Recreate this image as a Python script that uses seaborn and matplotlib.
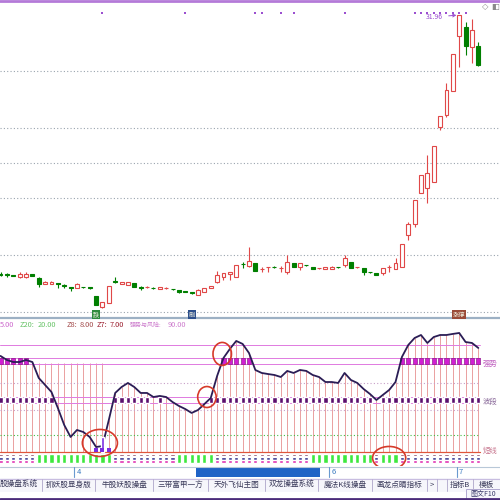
import matplotlib
matplotlib.use("Agg")
import matplotlib.pyplot as plt
import matplotlib.transforms as mtransforms
from matplotlib.patches import Ellipse, Rectangle
import seaborn as sns

# --- 1. Data ---

# daily candles (open / high / low / close)
opens = [16.45, 16.37, 16.33, 16.24, 16.24, 16.42, 16.18, 15.82, 15.82, 15.84,
         15.71, 15.64, 15.58, 15.66, 15.59, 15.10, 14.44, 14.68, 15.98, 15.82,
         15.76, 15.88, 15.64, 15.62, 15.59, 15.52, 15.57, 15.53, 15.46, 15.36,
         15.34, 15.16, 15.34, 15.58, 15.94, 16.24, 16.42, 16.24, 17.03, 16.90,
         17.08, 16.71, 16.83, 16.85, 16.77, 16.54, 17.08, 16.84, 16.97, 16.84,
         16.77, 16.72, 16.72, 16.85, 16.96, 17.14, 16.83, 16.78, 16.55, 16.48,
         16.48, 16.83, 16.72, 16.84, 18.76, 19.42, 21.28, 21.58, 21.94, 25.24,
         25.96, 27.40, 30.70, 31.24, 30.04, 30.10]
highs = [16.54, 16.48, 16.35, 16.54, 16.54, 16.45, 16.24, 16.00, 16.00, 15.88,
         15.80, 15.66, 15.86, 15.66, 15.66, 15.12, 14.76, 15.72, 16.24, 15.96,
         15.96, 15.90, 15.70, 15.70, 15.62, 15.66, 15.62, 15.55, 15.48, 15.40,
         15.36, 15.50, 15.60, 15.72, 16.60, 16.50, 16.56, 16.98, 17.14, 18.04,
         17.10, 16.84, 16.86, 16.92, 16.90, 17.56, 17.10, 17.10, 16.99, 16.86,
         16.81, 16.86, 16.88, 16.87, 17.56, 17.16, 16.87, 16.80, 16.57, 16.50,
         16.80, 16.96, 17.38, 18.24, 19.54, 20.88, 22.38, 23.56, 24.12, 25.92,
         27.88, 29.64, 31.96, 31.54, 31.72, 30.34]
lows = [16.30, 16.24, 16.29, 16.18, 16.18, 16.28, 15.64, 15.80, 15.80, 15.58,
        15.60, 15.40, 15.56, 15.60, 15.52, 14.54, 14.38, 14.66, 15.88, 15.80,
        15.74, 15.62, 15.46, 15.56, 15.54, 15.50, 15.55, 15.48, 15.30, 15.32,
        15.22, 15.14, 15.32, 15.56, 15.88, 16.06, 16.06, 16.22, 16.78, 16.84,
        16.58, 16.54, 16.54, 16.76, 16.54, 16.42, 16.82, 16.66, 16.93, 16.70,
        16.75, 16.70, 16.70, 16.81, 16.84, 16.76, 16.80, 16.36, 16.50, 16.34,
        16.36, 16.54, 16.70, 16.82, 18.46, 19.24, 21.26, 20.68, 21.92, 25.06,
        25.84, 27.38, 28.84, 29.56, 29.08, 28.90]
closes = [16.39, 16.36, 16.31, 16.42, 16.42, 16.30, 15.82, 15.94, 15.94, 15.82,
          15.70, 15.58, 15.82, 15.63, 15.58, 14.56, 14.74, 15.70, 15.95, 15.94,
          15.94, 15.64, 15.58, 15.64, 15.57, 15.64, 15.59, 15.51, 15.34, 15.35,
          15.28, 15.46, 15.58, 15.70, 16.36, 16.48, 16.54, 16.96, 17.01, 17.20,
          16.60, 16.73, 16.85, 16.83, 16.79, 17.14, 16.84, 17.08, 16.95, 16.72,
          16.79, 16.84, 16.84, 16.83, 17.38, 16.78, 16.85, 16.54, 16.53, 16.36,
          16.78, 16.85, 17.08, 18.22, 19.42, 20.86, 22.36, 22.48, 24.10, 25.90,
          27.46, 29.62, 31.96, 30.10, 31.06, 28.96]

# purple signal dots along the top, and the labelled high
signal_days = [16, 29, 40, 41, 44, 46, 54, 65, 66, 67, 68, 69, 70, 71, 72, 73]
high_day = 72
high_label = "31.96"

# dotted price guides
price_grid = [28.60, 25.18, 23.08, 20.98, 17.56, 14.14]

# small tags under the candles
tag_days = [15, 30, 72]
tag_text = ["跌", "刷", "涨停"]
tag_colors = ["#2f8a3c", "#2c4f8c", "#9a4a38"]

# lower indicator line (0-100)
strength = [80.7, 77.3, 75.6, 75.6, 77.3, 75.6, 62.2, 56.3, 50.4, 37.0,
            22.7, 12.6, 18.5, 16.8, 12.6, 4.2, 5.0, 26.9, 49.6, 54.6,
            58.0, 54.6, 49.6, 49.6, 46.2, 47.1, 46.2, 42.0, 38.7, 36.1,
            32.8, 35.3, 40.3, 45.4, 63.9, 79.0, 86.6, 93.3, 90.8, 83.2,
            68.9, 66.4, 65.5, 64.7, 63.0, 68.1, 66.4, 68.9, 68.1, 64.7,
            63.0, 58.8, 58.8, 58.0, 66.4, 60.5, 58.0, 52.9, 48.7, 43.7,
            47.9, 52.1, 58.8, 79.8, 89.9, 95.8, 98.3, 91.6, 96.6, 98.3,
            98.3, 99.2, 100.0, 92.4, 91.6, 87.4]
stick_first = [80.7, 77.3, 75.6, 75.6, 77.3, 75.6, 75.0, 75.0, 75.0, 75.0,
               75.0, 75.0, 75.0, 75.0, 75.0, 75.0, 75.0]
stick_top = stick_first + strength[len(stick_first):]

strong_days = list(range(0, 5)) + list(range(35, 40)) + list(range(63, 76))
wave_days = list(range(0, 9)) + list(range(18, 24)) + [25] + list(range(33, 59)) + list(range(60, 76))
green_days = list(range(6, 18)) + list(range(28, 34)) + list(range(49, 59)) + list(range(60, 63))

pink_levels = [89.9, 79.0, 73.9, 46.2, 41.2]
dotted_levels = [58.0, 35.3]
green_level = 14.3

legend_items = [("5.00", "#cc66cc"), ("Z20:", "#66c266"), ("20.00", "#66c266"),
                ("Z8:", "#a24a4a"), ("8.00", "#a24a4a"), ("Z7:", "#9a1c2c"),
                ("7.00", "#9a1c2c"), ("强势与风险:", "#cc7acc"), ("90.00", "#cc7acc")]
legend_x = [0, 20, 38, 67, 80, 97, 110, 130, 168]

months = ["4", "6", "7"]
month_days = [12, 52, 72]

tabs = ["股操盘系统", "抓妖股显身版", "牛股妖股操盘", "三带富甲一方", "天外飞仙主图",
        "双龙操盘系统", "魔法K线操盘", "画龙点睛指标", ">", "", "指标B", "模板"]
tab_edges = [0, 42, 95, 153, 208, 265, 318, 372, 427, 437, 447, 473, 500]

days = list(range(len(closes)))

# --- 2. Figure ---
sns.set_theme(style="white")
plt.rcParams["font.family"] = ["Noto Sans CJK SC", "DejaVu Sans"]

fig = plt.figure(figsize=(5, 5), dpi=100)
fig.patch.set_facecolor("white")

ax_p = fig.add_axes([0, 1 - 318 / 500, 1, 317 / 500])
ax_i = fig.add_axes([0, 1 - 466 / 500, 1, 146 / 500])
ax_o = fig.add_axes([0, 0, 1, 1], zorder=10)
ax_o.set_xlim(0, 500)
ax_o.set_ylim(500, 0)
ax_o.axis("off")
ax_o.patch.set_visible(False)

xlim = (-0.08, 78.4)

# price panel
ax_p.set_xlim(*xlim)
ax_p.set_ylim(13.78, 32.80)
ax_p.set_xticks([])
ax_p.set_yticks([])
for side in ["left", "right"]:
    ax_p.spines[side].set_visible(False)
ax_p.spines["top"].set_color("#b47ad8")
ax_p.spines["top"].set_linewidth(2)
ax_p.spines["bottom"].set_color("#9cb0c4")
ax_p.spines["bottom"].set_linewidth(1.6)

for lv in price_grid:
    ax_p.axhline(lv, color="#9aa4ae", lw=0.8, ls=(0, (1, 2)), zorder=1)

up_col, dn_col = "#e04848", "#007f00"
cols = [up_col if c >= o else dn_col for o, c in zip(opens, closes)]
faces = ["white" if c >= o else dn_col for o, c in zip(opens, closes)]
ax_p.vlines(days, lows, highs, colors=cols, lw=0.8, zorder=2)
body_lo = [min(o, c) for o, c in zip(opens, closes)]
body_h = [max(abs(c - o), 0.04) for o, c in zip(opens, closes)]
ax_p.bar(days, body_h, bottom=body_lo, width=0.62, color=faces,
         edgecolor=cols, linewidth=0.8, zorder=3)

ax_p.scatter(signal_days, [32.08] * len(signal_days), s=3, marker="s",
             color="#9b4fd0", linewidths=0, zorder=4)
ax_p.annotate(high_label, xy=(high_day, highs[high_day]),
              xytext=(high_day - 2.6, highs[high_day] - 0.12),
              ha="right", va="center", fontsize=5, color="#9b4fd0",
              arrowprops=dict(arrowstyle="->", color="#9b4fd0", lw=0.7))

for d, t, c in zip(tag_days, tag_text, tag_colors):
    ax_p.text(d, 13.99, t, ha="center", va="center", fontsize=4.5, color="#f0f0e0",
              bbox=dict(boxstyle="square,pad=0.15", fc=c, ec="none"), zorder=5)

ax_o.text(485, 7, "◇", fontsize=6, color="#8a8a8a", ha="center", va="center",
          family="DejaVu Sans")
ax_o.text(495, 7, "◧", fontsize=6, color="#8a8a8a", ha="center", va="center",
          family="DejaVu Sans")

# indicator panel
ax_i.set_xlim(*xlim)
ax_i.set_ylim(-11.76, 110.9)
ax_i.set_xticks([])
ax_i.set_yticks([])
for side in ax_i.spines:
    ax_i.spines[side].set_visible(False)

ax_i.vlines(days, 0, stick_top, colors="#eaa0a0", lw=0.7, zorder=1)
for lv in pink_levels:
    ax_i.axhline(lv, xmax=0.96, color="#e07ae0", lw=0.7, zorder=2)
for lv in dotted_levels:
    ax_i.axhline(lv, xmax=0.96, color="#c8a0c8", lw=0.8, ls=(0, (1, 2)), zorder=2)
ax_i.axhline(green_level, xmax=0.96, color="#44bb44", lw=0.8, ls=(0, (1, 2)), zorder=2)
ax_i.axhline(0, xmax=0.96, color="#e0553a", lw=0.9, zorder=2)

ax_i.bar(strong_days, 5.0, bottom=73.9, width=0.65, color="#d21fd2",
         edgecolor="#7a0a7a", linewidth=0.4, zorder=3)
ax_i.bar(wave_days, 5.0, bottom=41.2, width=0.65, color="#5b0f6e", zorder=3)

sns.lineplot(x=days, y=strength, ax=ax_i, color="#2b1d55", lw=1.3, zorder=4)

ax_i.bar([16], [12.6], width=0.4, color="#7b2be0", zorder=5)
ax_i.scatter([15, 16, 17], [1.7, 1.7, 1.7], s=5, marker="s", color="#7b2be0",
             linewidths=0, zorder=5)

other_days = [d for d in days if d not in green_days]
ax_i.bar(green_days, 7.5, bottom=-9.2, width=0.65, color="#3ee83e", zorder=3)
ax_i.bar(other_days, 2.0, bottom=-3.7, width=0.65, color="#7a2040", zorder=3)
ax_i.bar(other_days, 2.0, bottom=-6.3, width=0.65, color="#2a2a8a", zorder=3)
ax_i.bar(other_days, 2.4, bottom=-9.2, width=0.65, color="#e030b0", zorder=3)

for cx, cy, w, h in [(15.6, 7.6, 5.5, 22.7), (34.8, 82.4, 2.9, 19.3),
                     (32.4, 46.2, 2.9, 17.6), (61.0, -5.0, 5.2, 19.3)]:
    ax_i.add_patch(Ellipse((cx, cy), w, h, fill=False, ec="#d63a2a", lw=1.2,
                           clip_on=False, zorder=6))

for (t, c), x in zip(legend_items, legend_x):
    size = 4.3 if t.startswith("强") else 5.3
    ax_o.text(x, 325, t, fontsize=size, color=c, ha="left", va="center")

for t, y, c in [("强势", 364, "#c060c0"), ("波段", 402, "#8a6a9a"), ("短线", 451, "#c87890")]:
    ax_o.text(483, y, t, fontsize=5.3, color=c, ha="left", va="center")

# date strip
ax_o.add_patch(Rectangle((0, 466), 500, 12, fc="white", ec="none"))
ax_o.plot([0, 500], [466.5, 466.5], color="#b8c8d8", lw=0.8)
ax_o.add_patch(Rectangle((196, 467), 124, 10, fc="#1f63c6", ec="none"))
mix = mtransforms.blended_transform_factory(ax_i.transData, ax_o.transData)
for d, m in zip(month_days, months):
    ax_o.plot([d - 0.4, d - 0.4], [467, 477], color="#6a9ad0", lw=0.8, transform=mix)
    ax_o.text(d - 0.1, 472.5, m, fontsize=5.5, color="#3a7ac0", ha="left",
              va="center", transform=mix)

# tab bar
ax_o.add_patch(Rectangle((0, 478), 500, 14, fc="#f6f6fb", ec="none"))
ax_o.plot([0, 500], [478.5, 478.5], color="#c8bde0", lw=0.8)
for x in tab_edges[1:-1]:
    ax_o.plot([x, x], [479, 491], color="#b8b0d0", lw=0.7)
for i, t in enumerate(tabs):
    if i == 0:
        ax_o.text(0, 485, t, fontsize=5.5, color="#3a3a5a", ha="left", va="center")
    else:
        ax_o.text((tab_edges[i] + tab_edges[i + 1]) / 2, 485, t, fontsize=5.5,
                  color="#3a3a5a", ha="center", va="center")

ax_o.add_patch(Rectangle((466, 489), 34, 9.5, fc="#f6f6fb", ec="#b0a8d0", lw=0.7))
ax_o.text(483, 493.7, "图文F10", fontsize=5, color="#3a3a6a", ha="center", va="center")
ax_o.plot([0, 500], [499, 499], color="#4a2a7a", lw=2)

fig.savefig("out.png", dpi=100)
